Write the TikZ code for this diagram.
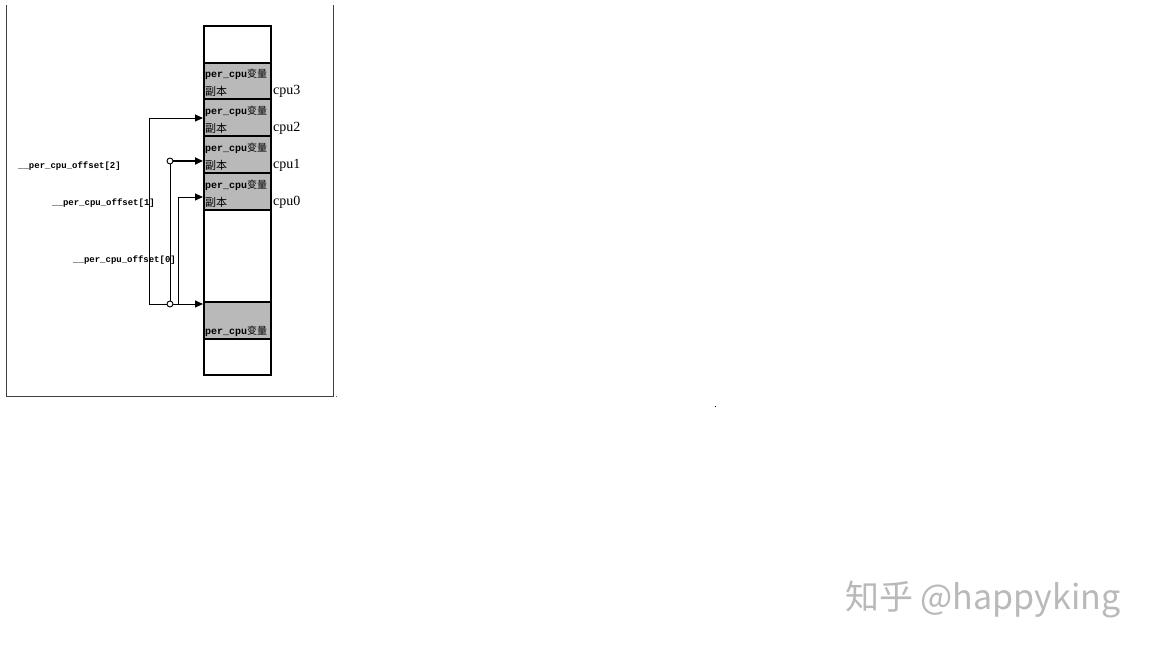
\documentclass[tikz,border=0pt]{standalone}
\usepackage{fontspec}
\setmainfont{Liberation Serif}
\setmonofont{Liberation Mono}
\newfontfamily\cjk{Noto Sans CJK SC}
\usetikzlibrary{arrows.meta}
\definecolor{cellgray}{RGB}{185,185,185}
\definecolor{wmgray}{RGB}{185,185,185}
\begin{document}
\begin{tikzpicture}[x=1pt,y=-1pt,
  cellbox/.style={draw, line width=1.6pt, minimum width=67pt, inner sep=0pt, anchor=north west},
  celltxt/.style={anchor=west, inner sep=0pt, font=\fontsize{10}{12}\selectfont},
  cpulbl/.style={anchor=west, inner sep=0pt, font=\fontsize{14}{16}\selectfont},
  offlbl/.style={anchor=west, inner sep=0pt, font=\fontsize{9}{11}\selectfont\ttfamily\bfseries},
  conn/.style={line width=0.9pt},
  tip/.style={-{Triangle[length=8pt,width=7pt]}},
  dot/.style={circle, draw, line width=0.9pt, fill=white, inner sep=0pt, minimum size=6pt}
]
\useasboundingbox (0,0) rectangle (1152,648);
\fill[white] (0,0) rectangle (1152,648);
% frame
\draw[line width=1pt, black!75] (6,5) -- (6,396) -- (333,396) -- (333,5);
% column cells
\node[cellbox, minimum height=37pt] (top) at (203,25) {};
\node[cellbox, fill=cellgray, minimum height=36pt] (c3) at (203,62) {};
\node[cellbox, fill=cellgray, minimum height=37pt] (c2) at (203,98) {};
\node[cellbox, fill=cellgray, minimum height=37pt] (c1) at (203,135) {};
\node[cellbox, fill=cellgray, minimum height=37pt] (c0) at (203,172) {};
\node[cellbox, minimum height=92pt] (gap) at (203,209) {};
\node[cellbox, fill=cellgray, minimum height=37pt] (pv) at (203,301) {};
\node[cellbox, minimum height=36pt] (bot) at (203,338) {};
% cell texts
\node[celltxt] (t3a) at (205,74) {{\ttfamily\bfseries per\_cpu}{\cjk 变量}};
\node[celltxt] (t3b) at (205,91) {{\cjk\fontsize{11}{12}\selectfont 副本}};
\node[celltxt] (t2a) at (205,111) {{\ttfamily\bfseries per\_cpu}{\cjk 变量}};
\node[celltxt] (t2b) at (205,128) {{\cjk\fontsize{11}{12}\selectfont 副本}};
\node[celltxt] (t1a) at (205,148) {{\ttfamily\bfseries per\_cpu}{\cjk 变量}};
\node[celltxt] (t1b) at (205,165) {{\cjk\fontsize{11}{12}\selectfont 副本}};
\node[celltxt] (t0a) at (205,185) {{\ttfamily\bfseries per\_cpu}{\cjk 变量}};
\node[celltxt] (t0b) at (205,202) {{\cjk\fontsize{11}{12}\selectfont 副本}};
\node[celltxt] (tpv) at (205,331) {{\ttfamily\bfseries per\_cpu}{\cjk 变量}};
% cpu labels
\node[cpulbl] (l3) at (273,91) {cpu3};
\node[cpulbl] (l2) at (273,128) {cpu2};
\node[cpulbl] (l1) at (273,165) {cpu1};
\node[cpulbl] (l0) at (273,202) {cpu0};
% offset labels
\node[offlbl] (o2) at (18,166) {\_\_per\_cpu\_offset[2]};
\node[offlbl] (o1) at (52,203) {\_\_per\_cpu\_offset[1]};
\node[offlbl] (o0) at (73,260) {\_\_per\_cpu\_offset[0]};
% connector points
\coordinate (j0) at (149,304);
\coordinate (k) at (178,304);
\coordinate (a2) at (203,118);
\coordinate (a1) at (203,161);
\coordinate (a0) at (203,197);
\coordinate (ap) at (203,304);
\node[dot] (p1) at (170,161) {};
\node[dot] (p0) at (170,304) {};
% connectors
\draw[conn, tip] (j0) |- (a2);
\draw[conn] (j0) -- (p0.west);
\draw[conn, tip] (p0.east) -- (ap);
\draw[conn, tip] (k) |- (a0);
\draw[conn] (p0.north) -- (p1.south);
\draw[line width=1.8pt, tip] (p1.east) -- (a1);
% small marks
\fill[black] (714.5,405.5) rectangle (716,407);
\fill[black!60] (335.5,395.5) rectangle (336.5,396.5);
% watermark
\node[anchor=west, inner sep=0pt, text=wmgray, font=\cjk\fontsize{34}{36}\selectfont] (wm) at (845,599) {知乎 @happyking};
\end{tikzpicture}
\end{document}
